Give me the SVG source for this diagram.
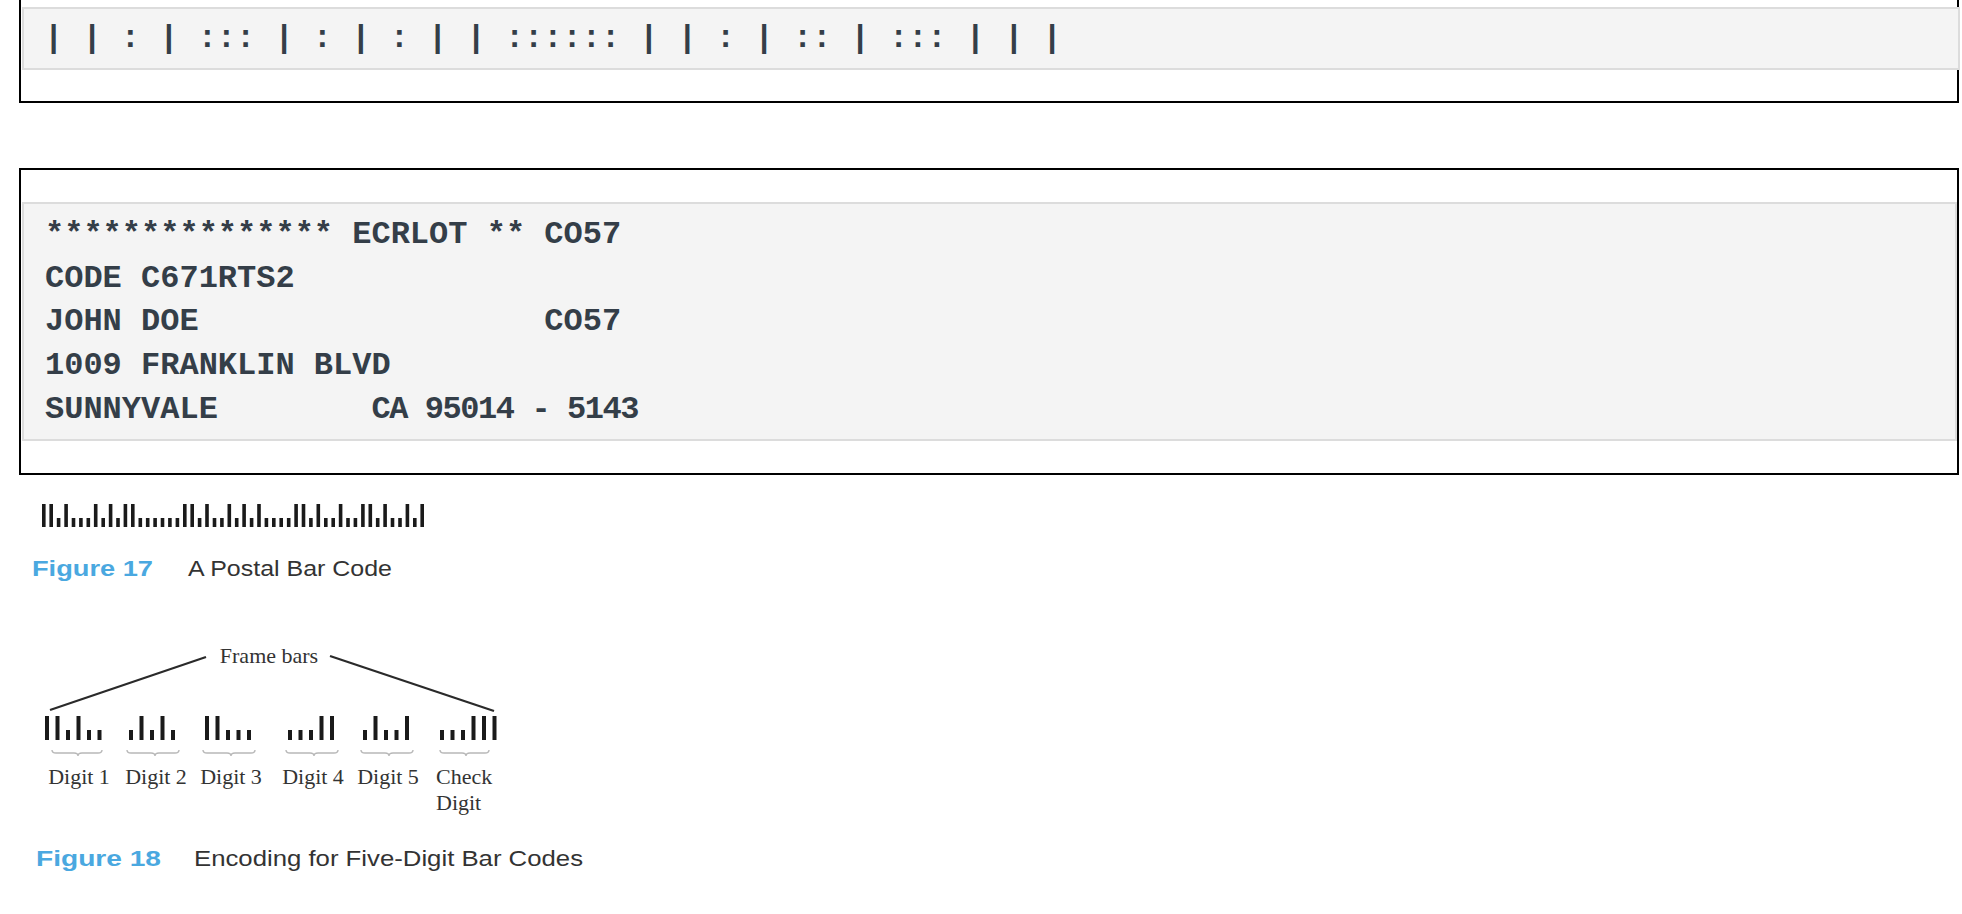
<svg xmlns="http://www.w3.org/2000/svg" xmlns:xlink="http://www.w3.org/1999/xlink" width="1962" height="914" viewBox="0 0 1962 914">
<style>
.box{fill:#fff;stroke:#000;stroke-width:2}
.code{fill:#f4f4f4;stroke:#dcdcdc;stroke-width:2}
.mono{font-family:"Liberation Mono","DejaVu Sans Mono",monospace;font-weight:bold;font-size:32px;fill:#343e48}
.fig{font-family:"Liberation Sans","Open Sans",sans-serif;font-weight:bold;font-size:22px;fill:#4aa8e0}
.cap{font-family:"Liberation Sans","Open Sans",sans-serif;font-size:22px;fill:#333}
.serif{font-family:"Liberation Serif","DejaVu Serif",serif;font-size:22px;fill:#333}
.frame{stroke:#2a2a2a;stroke-width:2.2;fill:none}
.brace{stroke:#b8b8b8;stroke-width:1.4;fill:none}
</style>
<defs>
<rect id="F" width="3.6" height="23" y="504" fill="#1a1a1a"/>
<rect id="H" width="3.6" height="9" y="518" fill="#1a1a1a"/>
<rect id="f" width="4" height="24" y="716" fill="#1a1a1a"/>
<rect id="h" width="4" height="10" y="730" fill="#1a1a1a"/>
</defs>
<g id="box1">
<rect class="box" x="20" y="-5" width="1938" height="107"/>
<rect class="code" x="23" y="8" width="1936" height="61"/>
<text class="mono" x="44" y="47" xml:space="preserve">| | : | ::: | : | : | | :::::: | | : | :: | ::: | | |</text>
</g>
<g id="box2">
<rect class="box" x="20" y="169" width="1938" height="305"/>
<rect class="code" x="23" y="203" width="1933" height="237"/>
<text class="mono" x="45" y="243" xml:space="preserve">*************** ECRLOT ** CO57</text>
<text class="mono" x="45" y="287" xml:space="preserve">CODE C671RTS2</text>
<text class="mono" x="45" y="330" xml:space="preserve">JOHN DOE                  CO57</text>
<text class="mono" x="45" y="374" xml:space="preserve">1009 FRANKLIN BLVD</text>
<text class="mono" x="45" y="418" xml:space="preserve">SUNNYVALE        <tspan textLength="268" lengthAdjust="spacing">CA 95014 - 5143</tspan></text>
</g>
<g id="figure17">
<use href="#F" x="42"/><use href="#F" x="49.4"/><use href="#H" x="56.8"/><use href="#F" x="64.3"/><use href="#H" x="71.7"/><use href="#H" x="79.1"/>
<use href="#H" x="86.5"/><use href="#F" x="93.9"/><use href="#H" x="101.4"/><use href="#F" x="108.8"/><use href="#H" x="116.2"/>
<use href="#F" x="123.6"/><use href="#F" x="131"/><use href="#H" x="138.5"/><use href="#H" x="145.9"/><use href="#H" x="153.3"/>
<use href="#H" x="160.7"/><use href="#H" x="168.1"/><use href="#H" x="175.6"/><use href="#F" x="183"/><use href="#F" x="190.4"/>
<use href="#H" x="197.8"/><use href="#F" x="205.2"/><use href="#H" x="212.7"/><use href="#H" x="220.1"/><use href="#F" x="227.5"/>
<use href="#H" x="234.9"/><use href="#F" x="242.3"/><use href="#H" x="249.8"/><use href="#F" x="257.2"/><use href="#H" x="264.6"/>
<use href="#H" x="272"/><use href="#H" x="279.4"/><use href="#H" x="286.9"/><use href="#F" x="294.3"/><use href="#F" x="301.7"/>
<use href="#H" x="309.1"/><use href="#F" x="316.5"/><use href="#H" x="324"/><use href="#H" x="331.4"/><use href="#F" x="338.8"/>
<use href="#H" x="346.2"/><use href="#H" x="353.6"/><use href="#F" x="361.1"/><use href="#F" x="368.5"/><use href="#H" x="375.9"/>
<use href="#F" x="383.3"/><use href="#H" x="390.7"/><use href="#H" x="398.2"/><use href="#F" x="405.6"/><use href="#H" x="413"/>
<use href="#F" x="420.4"/>
<text class="fig" x="32" y="576" textLength="121" lengthAdjust="spacingAndGlyphs">Figure 17</text>
<text class="cap" x="188" y="576" textLength="204" lengthAdjust="spacingAndGlyphs">A Postal Bar Code</text>
</g>
<g id="connectors">
<path class="frame" d="M50 710 L206 657"/>
<path class="frame" d="M330 656 L494 711"/>
</g>
<g id="frame-label"><text class="serif" x="269" y="663" text-anchor="middle">Frame bars</text></g>
<g id="digit1">
<use href="#f" x="45"/><use href="#f" x="55.5"/><use href="#h" x="66"/><use href="#f" x="76.5"/><use href="#h" x="87"/><use href="#h" x="97.5"/>
<path class="brace" d="M52 750 q0 3 4 3 H74 q4 0 4 3 q0 -3 4 -3 H98 q4 0 4 -3"/>
<text class="serif" x="79" y="784" text-anchor="middle">Digit 1</text>
</g>
<g id="digit2">
<use href="#h" x="129"/><use href="#f" x="139.5"/><use href="#h" x="150"/><use href="#f" x="160.5"/><use href="#h" x="171"/>
<path class="brace" d="M127 750 q0 3 4 3 H151 q4 0 4 3 q0 -3 4 -3 H175 q4 0 4 -3"/>
<text class="serif" x="156" y="784" text-anchor="middle">Digit 2</text>
</g>
<g id="digit3">
<use href="#f" x="205"/><use href="#f" x="215.5"/><use href="#h" x="226"/><use href="#h" x="236.5"/><use href="#h" x="247"/>
<path class="brace" d="M203 750 q0 3 4 3 H227 q4 0 4 3 q0 -3 4 -3 H251 q4 0 4 -3"/>
<text class="serif" x="231" y="784" text-anchor="middle">Digit 3</text>
</g>
<g id="digit4">
<use href="#h" x="288"/><use href="#h" x="298.5"/><use href="#h" x="309"/><use href="#f" x="319.5"/><use href="#f" x="330"/>
<path class="brace" d="M286 750 q0 3 4 3 H310 q4 0 4 3 q0 -3 4 -3 H334 q4 0 4 -3"/>
<text class="serif" x="313" y="784" text-anchor="middle">Digit 4</text>
</g>
<g id="digit5">
<use href="#h" x="363"/><use href="#f" x="373.5"/><use href="#h" x="384"/><use href="#h" x="394.5"/><use href="#f" x="405"/>
<path class="brace" d="M361 750 q0 3 4 3 H385 q4 0 4 3 q0 -3 4 -3 H409 q4 0 4 -3"/>
<text class="serif" x="388" y="784" text-anchor="middle">Digit 5</text>
</g>
<g id="check">
<use href="#h" x="440"/><use href="#h" x="450.5"/><use href="#h" x="461"/><use href="#f" x="471.5"/><use href="#f" x="482"/><use href="#f" x="492.5"/>
<path class="brace" d="M440 750 q0 3 4 3 H462 q4 0 4 3 q0 -3 4 -3 H485 q4 0 4 -3"/>
<text class="serif" x="436" y="784">Check</text>
<text class="serif" x="436" y="810">Digit</text>
</g>
<g id="figure18">
<text class="fig" x="36" y="866" textLength="125" lengthAdjust="spacingAndGlyphs">Figure 18</text>
<text class="cap" x="194" y="866" textLength="389" lengthAdjust="spacingAndGlyphs">Encoding for Five-Digit Bar Codes</text>
</g>
</svg>
